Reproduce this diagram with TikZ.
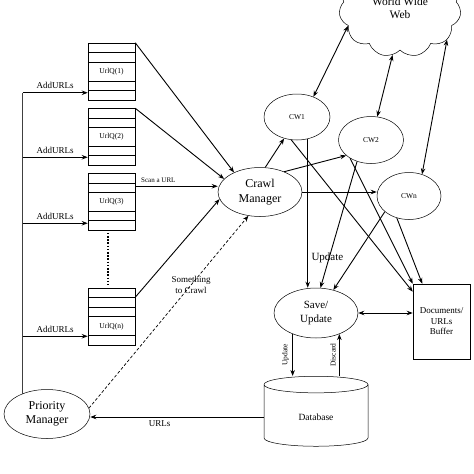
\documentclass[tikz,border=0pt]{standalone}
\usepackage{fontspec}
\setmainfont{Liberation Serif}
\usetikzlibrary{positioning,arrows.meta,shapes.geometric,shapes.symbols}

\begin{document}
\begin{tikzpicture}[
        x=1pt, y=-1pt,
        arrow/.style={
            -{Stealth[length=6pt,width=4.5pt]},
            line width=0.9pt
        },
        dblarrow/.style={
            {Stealth[length=6pt,width=4.5pt]}-{Stealth[length=6pt,width=4.5pt]},
            line width=0.9pt
        },
        queue/.style={
            rectangle,
            draw,
            line width=0.5pt,
            minimum width=47pt,
            minimum height=57pt,
            inner sep=0pt,
            font=\fontsize{7.5}{9}\selectfont
        },
        proc/.style={
            ellipse,
            draw,
            line width=0.5pt,
            inner sep=0pt,
            align=center
        },
        lbl/.style={
            font=\fontsize{9}{11}\selectfont,
            align=center
        },
        tinylbl/.style={
            font=\fontsize{7.5}{9}\selectfont
        }
    ]

    \useasboundingbox (0,0) rectangle (474,474);

    % URL queues
    \node[queue] (q1) at (111.5,71.5) {UrlQ(1)};
    \node[queue] (q2) at (111.5,137) {UrlQ(2)};
    \node[queue] (q3) at (111.5,202) {UrlQ(3)};
    \node[queue] (qn) at (111.5,317) {};
    \node[tinylbl] (qnlabel) at ([yshift=-9.5pt]qn.center) {UrlQ(n)};

    \foreach \q in {q1,q2,q3}
        \foreach \r in {9.5,19,38,47}
            \draw[line width=0.5pt] ([yshift=-\r pt]\q.north west) -- ([yshift=-\r pt]\q.north east);
    \foreach \r in {9,19,28,47}
        \draw[line width=0.5pt] ([yshift=-\r pt]qn.north west) -- ([yshift=-\r pt]qn.north east);

    \draw[line width=1.6pt, dash pattern=on 1.6pt off 1.6pt, shorten >=3pt, shorten <=2pt]
        ([xshift=-3.5pt]q3.south) -- ([xshift=-3.5pt]qn.north);

    % Managers and crawl workers
    \node[proc, minimum width=84pt, minimum height=49pt, font=\fontsize{12}{14.5}\selectfont] (cm) at (260,192) {Crawl\\Manager};
    \node[proc, minimum width=86pt, minimum height=49pt, font=\fontsize{12}{14.5}\selectfont] (pm) at (47,414) {Priority\\Manager};
    \node[proc, minimum width=66pt, minimum height=46pt, font=\fontsize{7.5}{9}\selectfont] (cw1) at (297,117) {CW1};
    \node[proc, minimum width=65pt, minimum height=47pt, font=\fontsize{7.5}{9}\selectfont] (cw2) at (371,140) {CW2};
    \node[proc, minimum width=64pt, minimum height=47pt, font=\fontsize{7.5}{9}\selectfont] (cwn) at (409,196) {CWn};
    \node[proc, minimum width=84pt, minimum height=50pt, font=\fontsize{11}{14}\selectfont] (su) at (316,313) {Save/\\Update};

    % Web, buffer and database
    \node[cloud, draw, line width=0.5pt, cloud puffs=11, cloud puff arc=115, minimum width=122pt, minimum height=88pt,
          align=center, font=\fontsize{11.5}{12.5}\selectfont] (www) at (400,8) {World Wide\\Web};
    \node[rectangle, draw, line width=0.5pt, minimum width=57pt, minimum height=75pt, align=center,
          font=\fontsize{9}{10.5}\selectfont] (buf) at (441.5,321.5) {Documents/\\URLs\\Buffer};
    \node[cylinder, shape border rotate=90, draw, line width=0.5pt, aspect=0.4, minimum width=104pt, minimum height=70pt,
          font=\fontsize{9.5}{11}\selectfont] (db) at (316,417) {Database};

    % Queues feed the crawl manager
    \draw[arrow] (q1.north east) -- (cm.143);
    \draw[arrow] (q2.north east) -- (cm.160);
    \coordinate (scan) at ([yshift=-13pt]q3.north east);
    \draw[arrow] (scan) -- (cm.west |- scan) node[pos=0.28, above, font=\fontsize{7}{8}\selectfont] {Scan a URL};
    \draw[arrow] ([yshift=-9pt]qn.north east) -- (cm.190);
    \draw[arrow, line width=0.7pt, densely dashed] (pm.8) -- (cm.244) node[pos=0.64, lbl] {Something\\to Crawl};

    % Crawl manager dispatches work
    \draw[arrow] (cm.78) -- (cw1.239);
    \draw[arrow] (cm.40) -- (cw2.212);
    \draw[arrow] (cm.east) -- (cwn.west |- cm.east);

    % Workers talk to the web
    \draw[dblarrow] (cw1.51) -- (www.199);
    \draw[dblarrow] (cw2.75) -- (www.261);
    \draw[dblarrow] (cwn.59) -- (www.326);

    % Workers hand results to save/update
    \draw[arrow] (cw1.-64) -- (cw1.-64 |- su.north) node[pos=0.8, right, font=\fontsize{11}{13}\selectfont] {Update};
    \draw[arrow] (cw2.237) -- (su.80);
    \draw[arrow] (cwn.213) -- (su.53);

    % Workers fill the buffer
    \draw[arrow] (cw1.256) -- (buf.134);
    \draw[arrow] (cw2.221) -- (buf.north west);
    \draw[arrow] (cwn.241) -- (buf.117);
    \draw[dblarrow] (su.east) -- (buf.west |- su.east);

    % Database traffic
    \draw[arrow] (su.222) -- (su.222 |- db.north) node[midway, above, rotate=90, tinylbl] {Update};
    \draw[arrow] (su.318 |- db.north) -- (su.318) node[midway, above, rotate=90, tinylbl] {Discard};
    \draw[arrow] (db.west) -- (db.west -| pm.east) node[pos=0.6, below, lbl] {URLs};

    % Priority manager adds URLs to the queues
    \coordinate (in1) at ([yshift=-50pt]q1.north west);
    \coordinate (in2) at ([yshift=-49pt]q2.north west);
    \coordinate (in3) at ([yshift=-50pt]q3.north west);
    \coordinate (inn) at ([yshift=-48pt]qn.north west);
    \draw[line width=0.8pt, black!75] (pm.140) -- (pm.140 |- in1);
    \foreach \c in {in1,in2,in3,inn}
        \draw[arrow] (pm.140 |- \c) -- (\c) node[midway, above, lbl] {AddURLs};

\end{tikzpicture}
\end{document}
